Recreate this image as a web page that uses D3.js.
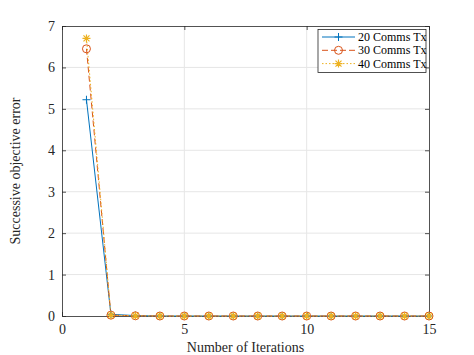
<!DOCTYPE html>
<html><head><meta charset="utf-8">
<script src="https://cdn.jsdelivr.net/npm/d3@7"></script>
<style>body{margin:0;background:#fff}svg{display:block}text{font-family:"Liberation Serif","Times New Roman",serif}</style>
</head><body>
<script>
const iterations = [1,2,3,4,5,6,7,8,9,10,11,12,13,14,15];
const seriesNames = ["20 Comms Tx","30 Comms Tx","40 Comms Tx"];
const comms20 = [5.22,0.04,0.01,0,0,0,0,0,0,0,0,0,0,0,0];
const comms30 = [6.45,0.02,0.005,0,0,0,0,0,0,0,0,0,0,0,0];
const comms40 = [6.7,0.02,0.005,0,0,0,0,0,0,0,0,0,0,0,0];
const xTicks = [0,5,10,15];
const yTicks = [0,1,2,3,4,5,6,7];

const W=474,H=355,L=62,R=429,T=26,B=316;
const svg=d3.select("body").append("svg").attr("width",W).attr("height",H);
const x=d3.scaleLinear().domain([0,15]).range([L,R]);
const y=d3.scaleLinear().domain([0,7]).range([B,T]);
const axc="#262626";
// grid
svg.append("g").selectAll("line").data(xTicks.slice(1,-1)).join("line")
 .attr("x1",d=>x(d)).attr("x2",d=>x(d)).attr("y1",T).attr("y2",B).attr("stroke","#e6e6e6");
svg.append("g").selectAll("line").data(yTicks.slice(1,-1)).join("line")
 .attr("y1",d=>y(d)).attr("y2",d=>y(d)).attr("x1",L).attr("x2",R).attr("stroke","#e6e6e6");
// axes
const xa=svg.append("g").attr("transform",`translate(0,${B})`).call(d3.axisBottom(x).tickValues(xTicks).tickFormat(d3.format("d")).tickSizeInner(-4).tickSizeOuter(0).tickPadding(8));
const xa2=svg.append("g").attr("transform",`translate(0,${T})`).call(d3.axisTop(x).tickValues(xTicks).tickSizeInner(-4).tickSizeOuter(0).tickFormat(""));
const ya=svg.append("g").attr("transform",`translate(${L},0)`).call(d3.axisLeft(y).tickValues(yTicks).tickFormat(d3.format("d")).tickSizeInner(-4).tickSizeOuter(0).tickPadding(7));
const ya2=svg.append("g").attr("transform",`translate(${R},0)`).call(d3.axisRight(y).tickValues(yTicks).tickSizeInner(-4).tickSizeOuter(0).tickFormat(""));
[xa,xa2,ya,ya2].forEach(g=>{g.selectAll("path,line").attr("stroke",axc).attr("stroke-width",0.8);
 g.selectAll("text").attr("fill",axc).style("font-size","14px").style("font-family","Liberation Serif");});
svg.append("text").attr("x",(L+R)/2).attr("y",352).attr("text-anchor","middle").attr("fill",axc).style("font-size","14px").text("Number of Iterations");
svg.append("text").attr("transform",`translate(20,${(T+B)/2}) rotate(-90)`).attr("text-anchor","middle").attr("fill",axc).style("font-size","14px").text("Successive objective error");

const colors=["#0072BD","#D95319","#EDB120"];
const dashes=[null,"6,3","1.5,2"];
const data=[comms20,comms30,comms40];
const line=d3.line().x((d,i)=>x(iterations[i])).y(d=>y(d));
const plus=(g,c)=>g.append("path").attr("d","M-4,0H4M0,-4V4").attr("stroke",c).attr("stroke-width",1).attr("fill","none");
const circ=(g,c)=>g.append("circle").attr("r",4).attr("stroke",c).attr("stroke-width",1).attr("fill","none");
const star=(g,c)=>g.append("path").attr("d","M-4,0H4M0,-4V4M-3,-3L3,3M-3,3L3,-3").attr("stroke",c).attr("stroke-width",1.2).attr("fill","none");
const markers=[plus,circ,star];
data.forEach((s,k)=>{
 svg.append("path").datum(s).attr("d",line).attr("fill","none").attr("stroke",colors[k]).attr("stroke-width",1).attr("stroke-dasharray",dashes[k]);
});
data.forEach((s,k)=>{
 s.forEach((v,i)=>{const g=svg.append("g").attr("transform",`translate(${x(iterations[i])},${y(v)})`);markers[k](g,colors[k]);});
});
// legend
const lg=svg.append("g");
lg.append("rect").attr("x",318).attr("y",29.5).attr("width",108).attr("height",43).attr("fill","#fff").attr("stroke",axc).attr("stroke-width",0.8);
seriesNames.forEach((n,k)=>{
 const yy=37+k*13.3;
 lg.append("line").attr("x1",322).attr("x2",355).attr("y1",yy).attr("y2",yy).attr("stroke",colors[k]).attr("stroke-width",1).attr("stroke-dasharray",dashes[k]);
 markers[k](lg.append("g").attr("transform",`translate(338.5,${yy})`),colors[k]);
 lg.append("text").attr("x",358).attr("y",yy+4).attr("fill","#000").style("font-size","12px").text(n);
});
</script>
</body></html>
